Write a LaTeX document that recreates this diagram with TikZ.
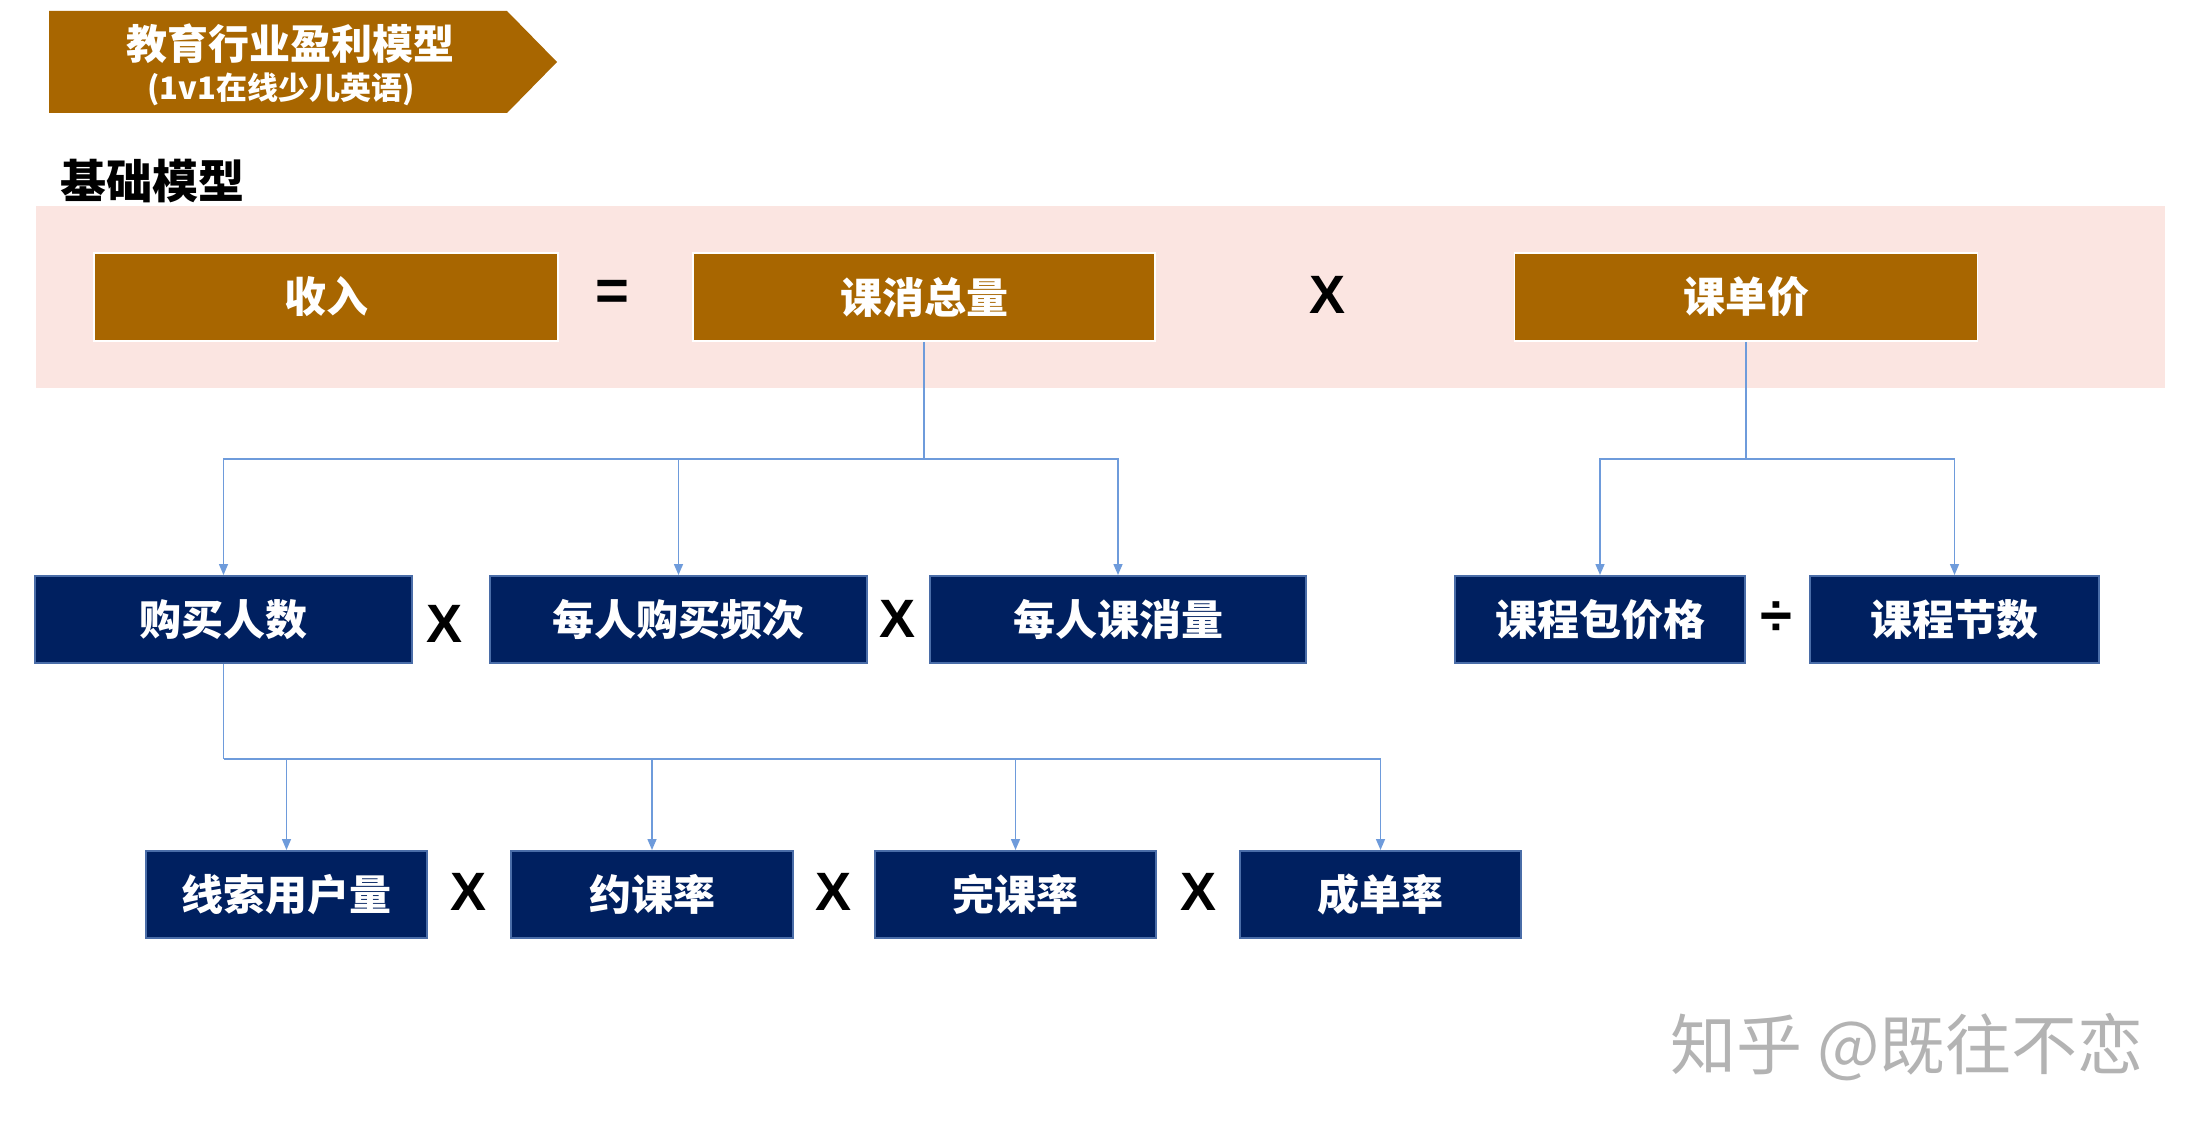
\documentclass[tikz,border=0pt]{standalone}
\usepackage{fontspec}
\setmainfont{Noto Sans CJK SC}
\newfontfamily\latinfont{Liberation Sans}
\usetikzlibrary{arrows.meta}
\definecolor{brownbox}{HTML}{A86600}
\definecolor{navybox}{HTML}{002060}
\definecolor{navyedge}{HTML}{4A6DA8}
\definecolor{pinkband}{HTML}{FBE5E1}
\definecolor{linkblue}{HTML}{6E9BDB}
\definecolor{wmgray}{HTML}{B3B3B3}
\tikzset{
  brownnode/.style={fill=brownbox,draw=white,line width=1.5pt,inner sep=0pt,
    minimum height=88pt,text=white,font=\fontsize{42}{42}\selectfont\bfseries},
  navynode/.style={fill=navybox,draw=navyedge,line width=2pt,inner sep=0pt,
    minimum height=87pt,text=white,font=\fontsize{42}{42}\selectfont\bfseries},
  opsym/.style={inner sep=0pt,font=\latinfont\bfseries\fontsize{54}{54}\selectfont},
  bigop/.style={inner sep=0pt,font=\latinfont\bfseries\fontsize{58}{58}\selectfont},
  conn/.style={draw=linkblue,line width=1.5pt},
  arr/.style={conn,-{Triangle[width=9pt,length=11pt]}}
}
\begin{document}
\begin{tikzpicture}[x=1pt,y=-1pt]
\useasboundingbox (0,0) rectangle (2200,1134);
\fill[white] (0,0) rectangle (2200,1134);
% banner
\fill[brownbox] (49,11) -- (507,11) -- (557,62) -- (507,113) -- (49,113) -- cycle;
\node[text=white,inner sep=0pt,font=\fontsize{41}{41}\selectfont\bfseries] (title) at (290,44) {教育行业盈利模型};
\node[text=white,inner sep=0pt,font=\fontsize{31}{31}\selectfont\bfseries] (subtitle) at (281,89) {(1v1在线少儿英语)};
\node[inner sep=0pt,font=\fontsize{46}{46}\selectfont\bfseries] (basic) at (152,181) {基础模型};
% pink band
\fill[pinkband] (36,206) rectangle (2165,388);
% top row
\node[brownnode,minimum width=464pt] (sr) at (326,297) {收入};
\node[bigop] (eq) at (612,295) {=};
\node[brownnode,minimum width=462pt] (kxzl) at (924,297) {课消总量};
\node[opsym] (x0) at (1327,295) {X};
\node[brownnode,minimum width=463pt] (kdj) at (1746,297) {课单价};
% second row
\node[navynode,minimum width=377pt] (gmrs) at (223.5,619.5) {购买人数};
\node[opsym] (x1) at (445,624) {X};
\node[navynode,minimum width=377pt] (mrgmpc) at (678.5,619.5) {每人购买频次};
\node[opsym] (x2) at (897,619) {X};
\node[navynode,minimum width=376pt] (mrkxl) at (1118,619.5) {每人课消量};
\node[navynode,minimum width=290pt] (kcbjg) at (1600,619.5) {课程包价格};
\node[bigop] (div) at (1776,619) {÷};
\node[navynode,minimum width=289pt] (kcjs) at (1954.5,619.5) {课程节数};
% third row
\node[navynode,minimum width=281pt] (xsyhl) at (286.5,894.5) {线索用户量};
\node[opsym] (x3) at (469,892) {X};
\node[navynode,minimum width=282pt] (ykl) at (652,894.5) {约课率};
\node[opsym] (x4) at (833,892) {X};
\node[navynode,minimum width=281pt] (wkl) at (1015.5,894.5) {完课率};
\node[opsym] (x5) at (1198,892) {X};
\node[navynode,minimum width=281pt] (cdl) at (1380.5,894.5) {成单率};
% connectors
\coordinate (j1) at (924,459);
\coordinate (j2) at (1746,459);
\coordinate (j3) at (223.5,759);
\draw[conn] (kxzl.south) -- (j1);
\draw[arr] (j1) -| (gmrs.north);
\draw[arr] (j1) -| (mrgmpc.north);
\draw[arr] (j1) -| (mrkxl.north);
\draw[conn] (kdj.south) -- (j2);
\draw[arr] (j2) -| (kcbjg.north);
\draw[arr] (j2) -| (kcjs.north);
\draw[conn] (gmrs.south) -- (j3);
\draw[arr] (j3) -| (xsyhl.north);
\draw[arr] (j3) -| (ykl.north);
\draw[arr] (j3) -| (wkl.north);
\draw[arr] (j3) -| (cdl.north);
% watermark
\node[text=wmgray,inner sep=0pt,font=\fontsize{66}{66}\selectfont] (wm) at (1907,1047) {知乎 @既往不恋};
\end{tikzpicture}
\end{document}
